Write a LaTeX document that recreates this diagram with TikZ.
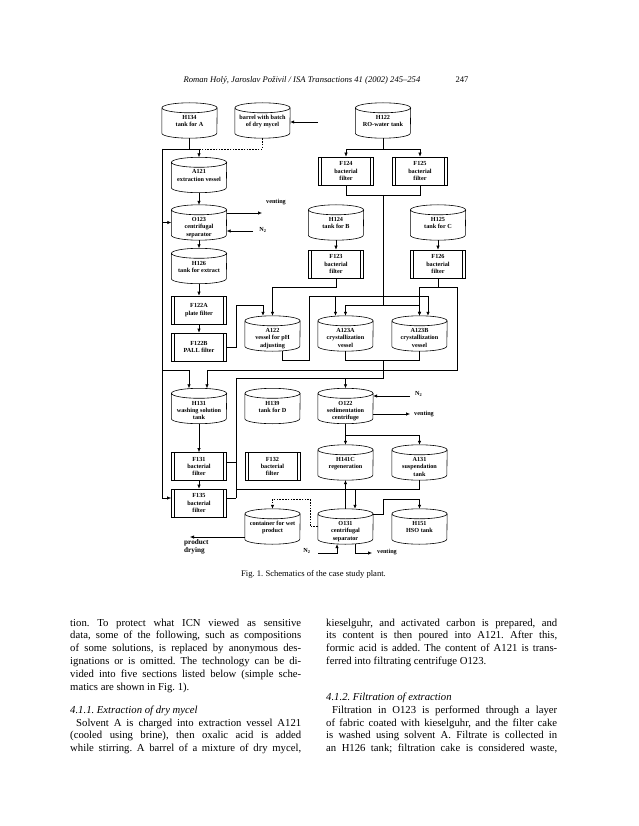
\documentclass[tikz,border=0pt]{standalone}
\usepackage{fontspec}
\setmainfont{Liberation Serif}
\usetikzlibrary{arrows.meta}
\frenchspacing

\newcommand\tanklbl{\fontsize{6.2}{7.4}\selectfont\bfseries}
\newcommand\tanktxt[1]{\begin{tabular}[t]{@{}c@{}}#1\end{tabular}}
\newcommand\bodytxt{\fontsize{10.7}{12.8}\selectfont}
\newcommand\jline[1]{\makebox[231pt][s]{#1}}

\begin{document}
\begin{tikzpicture}[x=1pt, y=-1pt,
    tank/.style={rectangle, minimum width=55pt, minimum height=35pt, inner sep=0pt,
                 font=\tanklbl, text height=16.5pt, text depth=18.5pt,
                 append after command={\pgfextra{\let\tk\tikzlastnode
                   \draw[line width=0.6pt]
                     ([yshift=-5pt]\tk.north) ellipse [x radius=27.5pt, y radius=5pt]
                     ([yshift=-5pt]\tk.north west) -- ([yshift=5pt]\tk.south west)
                     arc[start angle=180, end angle=360, x radius=27.5pt, y radius=5pt]
                     -- ([yshift=-5pt]\tk.north east);}}},
    filt/.style={rectangle, draw, line width=0.6pt, minimum width=55pt,
                 minimum height=28pt, inner sep=0pt, align=center, font=\tanklbl,
                 path picture={\draw[line width=0.6pt]
                   ([xshift=3pt]path picture bounding box.north west) -- ([xshift=3pt]path picture bounding box.south west)
                   ([xshift=-3pt]path picture bounding box.north east) -- ([xshift=-3pt]path picture bounding box.south east);}},
    pipe/.style={line width=0.6pt},
    flow/.style={pipe, -{Latex[length=4pt,width=3.4pt]}},
    dashpipe/.style={pipe, dash pattern=on 1.6pt off 1.2pt},
    tag/.style={font=\tanklbl, inner sep=0pt},
    bodyline/.style={font=\bodytxt, inner sep=0pt, anchor=base west}]

\useasboundingbox (0,0) rectangle (638,826);
\fill[white] (0,0) rectangle (638,826);

%% ---- Running head ----
\node[font=\fontsize{8.6}{10}\selectfont\itshape, inner sep=0pt, anchor=base] (head)
    at (302,83) {Roman Holý, Jaroslav Poživil / ISA Transactions 41 (2002) 245--254};
\node[font=\fontsize{8.6}{10}\selectfont, inner sep=0pt, anchor=base] (pageno) at (462,83) {247};

%% ---- Tanks, first row ----
\node[tank] (h134)   at (189.5,120.5) {\tanktxt{H134\\tank for A}};
\node[tank] (barrel) at (262.5,120.5) {\tanktxt{barrel with batch\\of dry mycel}};
\node[tank] (h122)   at (383,120.5)   {\tanktxt{H122\\RO-water tank}};

%% ---- Column of the extraction ----
\node[tank] (a121)  at (199,175)   {\tanktxt{A121\\extraction vessel}};
\node[tank] (o123)  at (199,222.5) {\tanktxt{O123\\centrifugal\\separator}};
\node[tank] (h126)  at (199,266)   {\tanktxt{H126\\tank for extract}};
\node[filt] (f122a) at (199,310)   {F122A\\plate filter};
\node[filt] (f122b) at (199,347)   {F122B\\PALL filter};

%% ---- Filters and tanks B, C ----
\node[filt] (f124) at (346,171)   {F124\\bacterial\\filter};
\node[filt] (f125) at (420,171)   {F125\\bacterial\\filter};
\node[tank] (h124) at (336,222.5) {\tanktxt{H124\\tank for B}};
\node[tank] (h125) at (438,222.5) {\tanktxt{H125\\tank for C}};
\node[filt] (f123) at (336,264)   {F123\\bacterial\\filter};
\node[filt] (f126) at (438,264)   {F126\\bacterial\\filter};

%% ---- Vessels ----
\node[tank] (a122)  at (272.5,333.5) {\tanktxt{A122\\vessel for pH\\adjusting}};
\node[tank] (a123a) at (345.5,333.5) {\tanktxt{A123A\\crystallization\\vessel}};
\node[tank] (a123b) at (419.5,333.5) {\tanktxt{A123B\\crystallization\\vessel}};

%% ---- Washing, centrifuges ----
\node[tank] (h131)  at (199,406)     {\tanktxt{H131\\washing solution\\tank}};
\node[tank] (h139)  at (272.5,406)   {\tanktxt{H139\\tank for D}};
\node[tank] (o122)  at (345.5,406)   {\tanktxt{O122\\sedimentation\\centrifuge}};
\node[filt] (f131)  at (199,466.5)   {F131\\bacterial\\filter};
\node[filt] (f132)  at (272.5,466.5) {F132\\bacterial\\filter};
\node[tank] (h141c) at (345.5,462.5) {\tanktxt{H141C\\regeneration}};
\node[tank] (a131)  at (419.5,462.5) {\tanktxt{A131\\suspendation\\tank}};
\node[filt] (f135)  at (199,503)     {F135\\bacterial\\filter};
\node[tank] (wetcont) at (272.5,526.5) {\tanktxt{container for wet\\product}};
\node[tank] (o131)  at (345.5,526.5) {\tanktxt{O131\\centrifugal\\separator}};
\node[tank] (h151)  at (419.5,526.5) {\tanktxt{H151\\HSO tank}};

%% ---- Solvent A ----
\coordinate (jA) at (189.5,149);
\coordinate (busA) at (162,149);
\coordinate (a121in) at (199,149);
\coordinate (mycelin) at (318,122);
\draw[pipe] (h134.south) -- (jA);
\draw[pipe] (busA) -- (a121in);
\draw[dashpipe] (barrel.south) |- (a121in);
\draw[flow] (a121in) -- (a121.north);
\draw[flow] (mycelin) -- (mycelin -| barrel.east);
\draw[flow] (busA) |- (o123.west);
\draw[flow] (busA) |- ([yshift=5pt]f135.west);

%% ---- RO water ----
\coordinate (j122) at (383,149);
\coordinate (jRO) at (383,195);
\coordinate (jRO2) at (383,305);
\draw[pipe] (h122.south) -- (j122);
\draw[flow] (j122) -| (f124.north);
\draw[flow] (j122) -| (f125.north);
\draw[pipe] (f124.south) |- (jRO);
\draw[pipe] (f125.south) |- (jRO);
\draw[pipe] (jRO) -- (jRO2);
\draw[flow] (jRO2) -| (a123a.north);
\draw[flow] (jRO2) -| (a123b.north);

%% ---- Extraction line ----
\coordinate (vent1) at (262,213);
\coordinate (n2a) at (253,231);
\draw[flow] (a121.south) -- (o123.north);
\draw[flow] (o123.east |- vent1) -- (vent1);
\draw[flow] (n2a) -- (n2a -| o123.east);
\node[tag] (vent1lbl) at (276,202) {venting};
\node[tag] (n2albl) at (263,230) {N\textsubscript{2}};
\draw[flow] (o123.south) -- (h126.north);
\draw[flow] (h126.south) -- (f122a.north);
\draw[flow] (f122a.south) -- (f122b.north);

%% ---- Feeds of A122 ----
\draw[flow] (h124.south) -- (f123.north);
\draw[flow] (h125.south) -- (f126.north);
\coordinate (c123) at (336,287);
\coordinate (c122b) at (236,305);
\draw[flow] (f123.south) -- (c123) -| (a122.north);
\draw[flow] (f122b.east) -| (c122b) -| ([xshift=-9.5pt]a122.north);

%% ---- A122 to crystallizers ----
\coordinate (c122o) at (309,360);
\coordinate (jL1) at (309,296);
\draw[pipe] ([xshift=9.5pt]a122.south) |- (c122o) -- (jL1);
\draw[flow] (jL1) -| ([xshift=-10pt]a123a.north);
\draw[flow] (jL1) -| ([xshift=8.5pt]a123b.north);

%% ---- Tank C ----
\coordinate (c126L) at (419.5,287);
\coordinate (c126R) at (457,287);
\coordinate (c370R) at (457,370);
\coordinate (c370L) at (162,370);
\draw[pipe] (f126.south) -- (f126.south |- c126R);
\draw[pipe] (c126L) -- (c126R);
\draw[flow] (c126L) -- (a123b.north);
\draw[flow] (c126R) -- (c370R) -| ([xshift=8pt]h131.north);
\draw[flow] (c370L) -| ([xshift=-10pt]h131.north);

%% ---- Crystallizers to O122 ----
\coordinate (jCr) at (383,360);
\coordinate (jCr2) at (383,378);
\coordinate (c236) at (236,378);
\coordinate (c236b) at (236,498);
\draw[pipe] (a123a.south) |- (jCr);
\draw[pipe] (a123b.south) |- (jCr);
\draw[pipe] (jCr) -- (jCr2) -- (c236) -- (c236b);
\draw[flow] (jCr2) -| (o122.north);

%% ---- O122 ----
\coordinate (j122o) at (345.5,435);
\coordinate (n2b) at (410,396);
\coordinate (vent2) at (410,414);
\draw[pipe] (o122.south) -- (j122o);
\draw[flow] (j122o) -- (h141c.north);
\draw[flow] (j122o) -| (a131.north);
\draw[flow] (n2b) -- (n2b -| o122.east);
\draw[flow] (vent2 -| o122.east) -- (vent2);
\node[tag, anchor=west] (n2blbl) at (415,394) {N\textsubscript{2}};
\node[tag, anchor=west] (vent2lbl) at (414,414) {venting};

%% ---- Washing solution ----
\draw[flow] (h131.south) -- (f131.north);
\draw[flow] (f131.south) -- (f135.north);
\draw[pipe] ([yshift=4.5pt]f131.east) -- ([yshift=4.5pt]f131.east -| c236);
\draw[pipe] ([yshift=5pt]f135.east) -- (c236b);

%% ---- O131 ----
\coordinate (c489) at (236,489);
\coordinate (c489R) at (419.5,489);
\coordinate (c310) at (310,499);
\coordinate (c383) at (383,499);
\coordinate (prod) at (190,537);
\coordinate (n2c) at (318,553);
\coordinate (vent3) at (372,553);
\draw[pipe] (c489) -- (c489R) -- (a131.south);
\draw[flow] ([xshift=9.5pt]o131.north |- c489) -- ([xshift=9.5pt]o131.north);
\draw[flow] (o131.north) -- (h141c.south);
\draw[dashpipe, -{Latex[length=4pt,width=3.4pt]}] (o131.west) -| (c310) -| (wetcont.north);
\draw[flow] ([yshift=12pt]o131.east) -| (c383) -| (h151.north);
\draw[flow] ([yshift=-10.5pt]wetcont.west) -- (prod);
\draw[flow] (n2c) -| ([xshift=-8.5pt]o131.south);
\draw[flow] ([xshift=9.5pt]o131.south) |- (vent3);
\node[font=\fontsize{7.2}{8}\selectfont\bfseries, align=left, inner sep=0pt, anchor=north west]
    (prodlbl) at (184,539.5) {product\\drying};
\node[tag] (n2clbl) at (307,551) {N\textsubscript{2}};
\node[tag] (vent3lbl) at (387,552) {venting};

%% ---- Caption ----
\node[font=\fontsize{8.6}{10}\selectfont, inner sep=0pt, anchor=base] (caption)
    at (313.5,576) {Fig. 1. Schematics of the case study plant.};

%% ---- Text, left column ----
\node[bodyline] (l1)  at (70,626)   {\jline{tion. To protect what ICN viewed as sensitive}};
\node[bodyline] (l2)  at (70,638.8) {\jline{data, some of the following, such as compositions}};
\node[bodyline] (l3)  at (70,651.6) {\jline{of some solutions, is replaced by anonymous des-}};
\node[bodyline] (l4)  at (70,664.4) {\jline{ignations or is omitted. The technology can be di-}};
\node[bodyline] (l5)  at (70,677.2) {\jline{vided into five sections listed below (simple sche-}};
\node[bodyline] (l6)  at (70,690)   {matics are shown in Fig. 1).};
\node[bodyline] (l7)  at (70,713)   {\textit{4.1.1. Extraction of dry mycel}};
\node[bodyline] (l8)  at (70,726)   {\jline{\hspace*{6pt}Solvent A is charged into extraction vessel A121}};
\node[bodyline] (l9)  at (70,738.8) {\jline{(cooled using brine), then oxalic acid is added}};
\node[bodyline] (l10) at (70,751.6) {\jline{while stirring. A barrel of a mixture of dry mycel,}};

%% ---- Text, right column ----
\node[bodyline] (r1) at (326,626)   {\jline{kieselguhr, and activated carbon is prepared, and}};
\node[bodyline] (r2) at (326,638.8) {\jline{its content is then poured into A121. After this,}};
\node[bodyline] (r3) at (326,651.6) {\jline{formic acid is added. The content of A121 is trans-}};
\node[bodyline] (r4) at (326,664.4) {ferred into filtrating centrifuge O123.};
\node[bodyline] (r5) at (326,700.4) {\textit{4.1.2. Filtration of extraction}};
\node[bodyline] (r6) at (326,713)   {\jline{\hspace*{6pt}Filtration in O123 is performed through a layer}};
\node[bodyline] (r7) at (326,726)   {\jline{of fabric coated with kieselguhr, and the filter cake}};
\node[bodyline] (r8) at (326,738.8) {\jline{is washed using solvent A. Filtrate is collected in}};
\node[bodyline] (r9) at (326,751.6) {\jline{an H126 tank; filtration cake is considered waste,}};

\end{tikzpicture}
\end{document}
